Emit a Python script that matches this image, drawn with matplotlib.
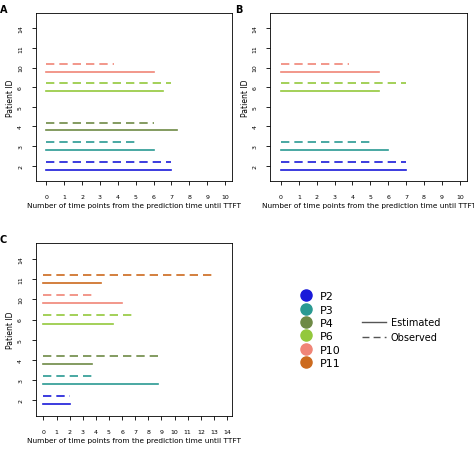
import numpy as np
from matplotlib import pyplot as plt
from matplotlib.lines import Line2D

patients = ['P2', 'P3', 'P4', 'P6', 'P10', 'P11']
colors = ['#1a1ad9', '#2a9a92', '#6e8a45', '#93c83c', '#f08577', '#cc6a1e']
ypos = [1, 2, 3, 5, 6, 7]
ytick_labels = ['2', '3', '4', '5', '6', '10', '11', '14']

# estimated / observed lengths per panel (None = not shown)
est_A = [7, 6, 7.3, 6.5, 6, None]
obs_A = [7, 5, 6, 7, 3.8, None]
est_B = [7, 6, None, 5.5, 5.5, None]
obs_B = [7, 5, None, 7, 3.8, None]
est_C = [2, 8.7, 3.7, 5.3, 6, 4.4]
obs_C = [2, 3.7, 9, 7, 3.7, 13]

fig = plt.figure(figsize=(4.74, 4.56), dpi=100)

def panel(rect, est, obs, xmax, letter):
    ax = fig.add_axes(rect)
    for i in range(len(patients)):
        if est[i] is not None:
            ax.plot([0, est[i]], [ypos[i] - 0.2] * 2, color=colors[i], lw=1.2)
        if obs[i] is not None:
            ax.plot([0, obs[i]], [ypos[i] + 0.2] * 2, color=colors[i], lw=1.2, ls=(0, (5, 3)))
    ax.set_xlim(-0.6, xmax + 0.4)
    ax.set_ylim(0.2, 8.8)
    ax.set_xticks(range(xmax + 1))
    ax.set_yticks(range(1, 9))
    ax.set_yticklabels(ytick_labels, rotation=90, va='center')
    ax.tick_params(labelsize=4.5, length=3, width=0.6, pad=6)
    ax.set_xlabel('Number of time points from the prediction time until TTFT', fontsize=5.3, labelpad=2)
    ax.set_ylabel('Patient ID', fontsize=5.5, labelpad=2)
    for s in ax.spines.values():
        s.set_linewidth(0.6)
    fig.text(rect[0] - 0.075, rect[1] + rect[3] + 0.002, letter, fontsize=7, fontweight='bold')
    return ax

panel([0.075, 0.6, 0.415, 0.37], est_A, obs_A, 10, 'A')
panel([0.57, 0.6, 0.415, 0.37], est_B, obs_B, 10, 'B')
panel([0.075, 0.085, 0.415, 0.38], est_C, obs_C, 14, 'C')

lax = fig.add_axes([0.6, 0.1, 0.38, 0.35])
lax.axis('off')
h1 = [Line2D([], [], marker='o', ls='none', color=c, markersize=8) for c in colors]
l1 = lax.legend(h1, patients, loc='center left', bbox_to_anchor=(0.0, 0.5), frameon=False,
                fontsize=8, handletextpad=0.3, labelspacing=0.3)
lax.add_artist(l1)
h2 = [Line2D([], [], color='#555555', lw=1), Line2D([], [], color='#555555', lw=1, ls=(0, (5, 3)))]
lax.legend(h2, ['Estimated', 'Observed'], loc='center left', bbox_to_anchor=(0.38, 0.5),
           frameon=False, fontsize=7, handlelength=2.5, handletextpad=0.5)

fig.savefig('out.png', dpi=100)
